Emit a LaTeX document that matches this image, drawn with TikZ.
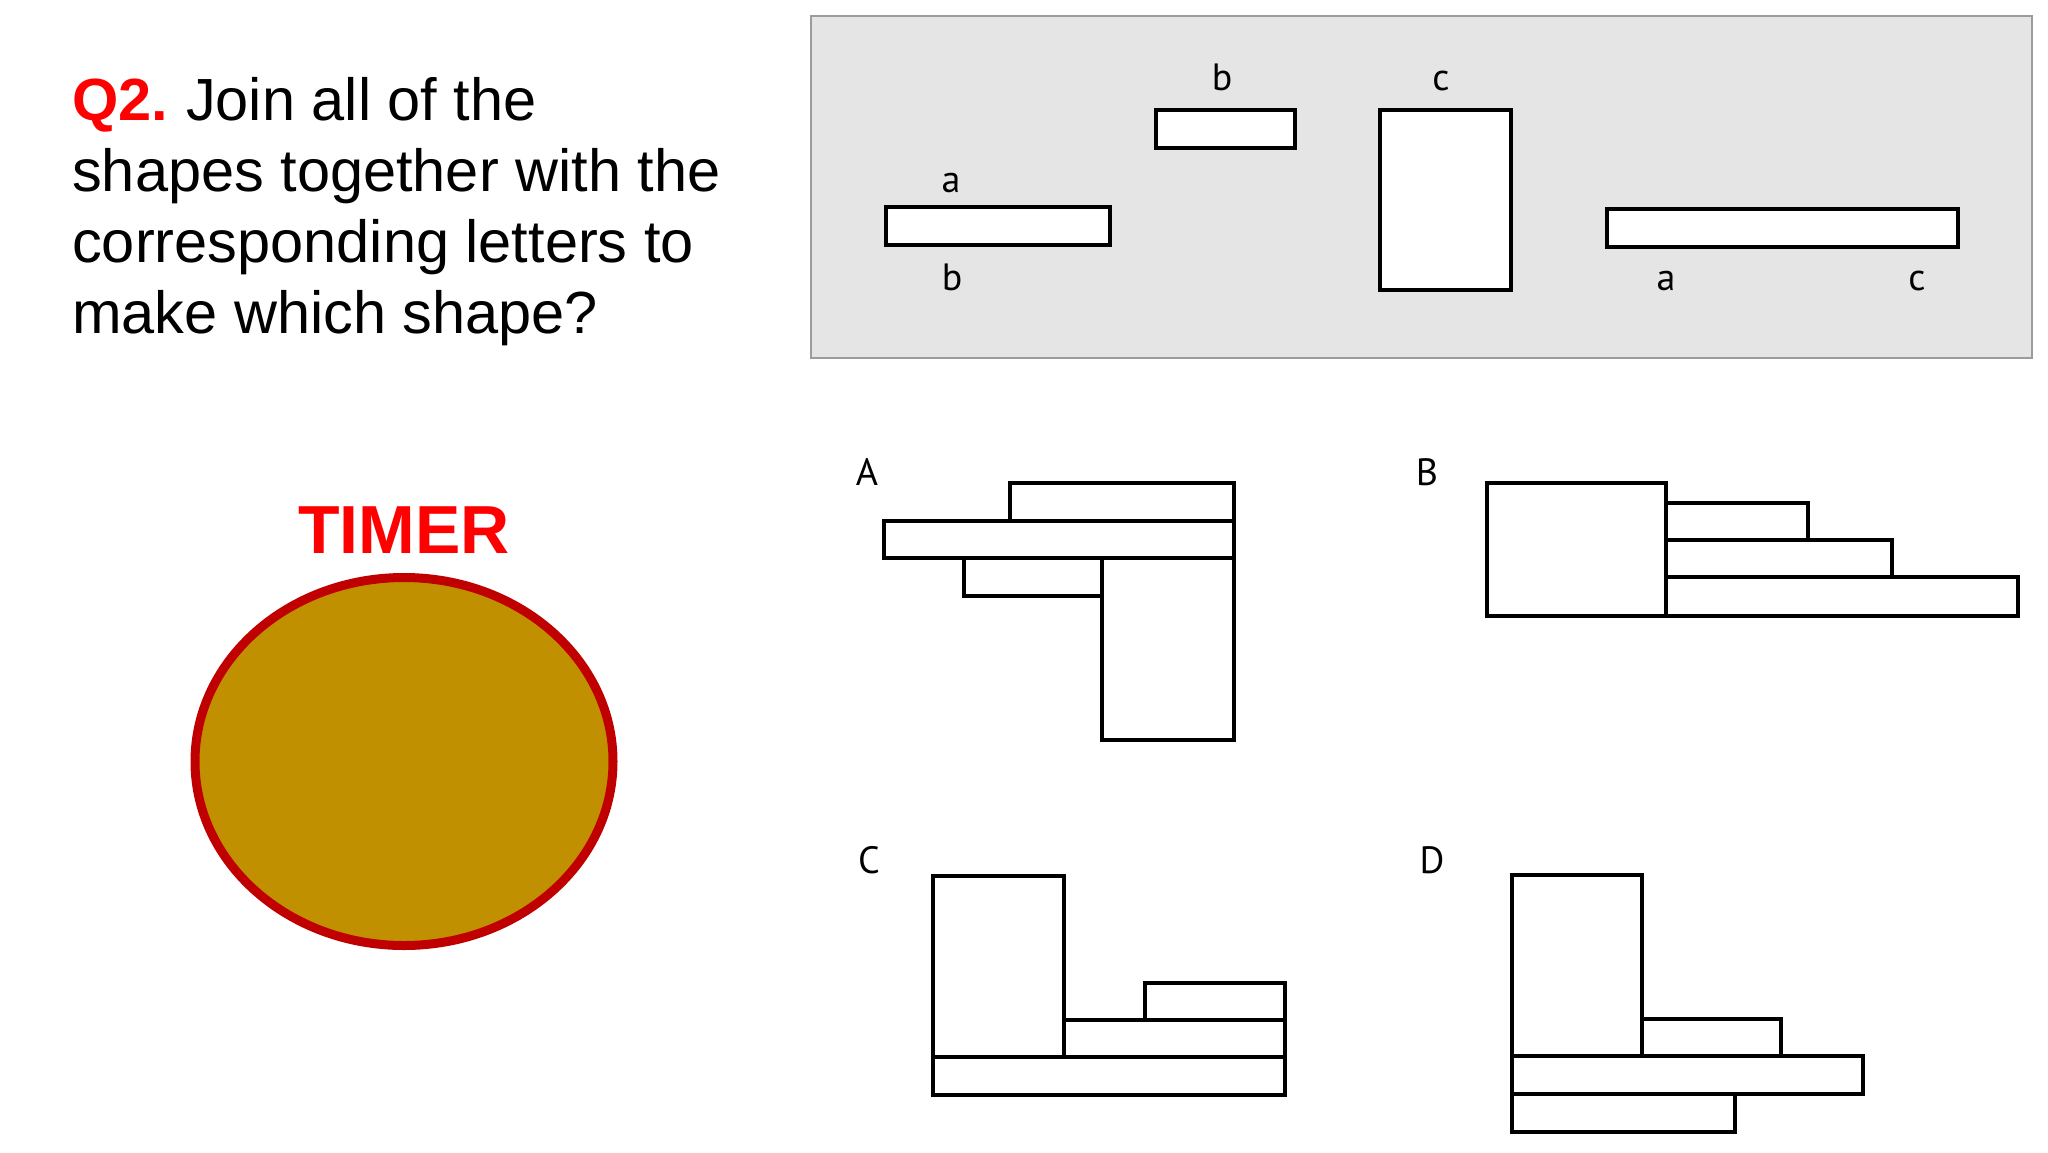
\documentclass[tikz,border=0pt]{standalone}
\usepackage{fontspec}
\setmainfont{Liberation Sans}
\newfontfamily\lblfont{PT Sans}
\definecolor{qred}{HTML}{FF0000}
\definecolor{panelgray}{HTML}{E5E5E5}
\definecolor{panelborder}{HTML}{9C9C9C}
\definecolor{timerfill}{HTML}{C09000}
\definecolor{timerring}{HTML}{C00000}
\begin{document}
\begin{tikzpicture}[x=1pt,y=-1pt,
  piece/.style={draw=black,fill=white,line width=3.2pt},
  lbl/.style={font=\lblfont\fontsize{38}{40}\selectfont,anchor=base,inner sep=0pt},
  qtext/.style={font=\fontsize{59.5}{68}\selectfont,anchor=base west,inner sep=0pt}]
\useasboundingbox[fill=white] (0,0) rectangle (2048,1152);

% question text
\node[qtext] (q1) at (72,120) {{\bfseries\color{qred}Q2.}\hspace{-4pt} Join all of the};
\node[qtext] (q2) at (72,191) {shapes together with the};
\node[qtext] (q3) at (72,262) {corresponding letters to};
\node[qtext] (q4) at (72,333) {make which shape?};

% timer
\node[font=\bfseries\fontsize{68}{80}\selectfont,text=qred,anchor=base,inner sep=0pt] (timer) at (404,553) {TIMER};
\draw[fill=timerfill,draw=timerring,line width=9pt] (404,761.5) ellipse [x radius=209, y radius=184];

% panel
\draw[fill=panelgray,draw=panelborder,line width=2.5pt] (811,16) rectangle (2032,358);
\draw[piece] (886,207) rectangle (1110,245);
\draw[piece] (1156,110) rectangle (1295,148);
\draw[piece] (1380,110) rectangle (1511,290);
\draw[piece] (1607,209) rectangle (1958,247);
\node[lbl] (pa1) at (951,192) {a};
\node[lbl] (pb1) at (952,290) {b};
\node[lbl] (pb2) at (1222,90) {b};
\node[lbl] (pc1) at (1441,90) {c};
\node[lbl] (pa2) at (1666,290) {a};
\node[lbl] (pc2) at (1917,290) {c};

% option A
\node[lbl] (optA) at (867,485) {A};
\draw[piece] (1010,483) rectangle (1234,521);
\draw[piece] (884,521) rectangle (1234,558);
\draw[piece] (964,558) rectangle (1102,596);
\draw[piece] (1102,558) rectangle (1234,740);

% option B
\node[lbl] (optB) at (1427,485) {B};
\draw[piece] (1487,483) rectangle (1666,616);
\draw[piece] (1666,503) rectangle (1808,540);
\draw[piece] (1666,540) rectangle (1892,577);
\draw[piece] (1666,577) rectangle (2018,616);

% option C
\node[lbl] (optC) at (869,873) {C};
\draw[piece] (933,876) rectangle (1064,1057);
\draw[piece] (1145,983) rectangle (1285,1020);
\draw[piece] (1064,1020) rectangle (1285,1057);
\draw[piece] (933,1057) rectangle (1285,1095);

% option D
\node[lbl] (optD) at (1432,873) {D};
\draw[piece] (1512,875) rectangle (1642,1056);
\draw[piece] (1642,1019) rectangle (1781,1056);
\draw[piece] (1512,1056) rectangle (1863,1094);
\draw[piece] (1512,1094) rectangle (1735,1132);
\end{tikzpicture}
\end{document}
